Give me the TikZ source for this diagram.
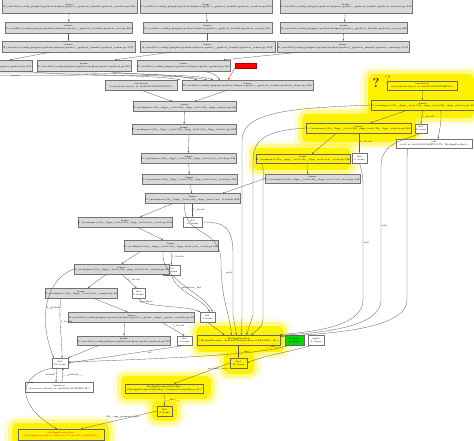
\documentclass[tikz,border=0pt]{standalone}
\usetikzlibrary{arrows.meta,calc}
\newcommand\bs{\textbackslash}
\newcommand\zpath{Z:\bs satellite\bs config\bs plugins\bs python\bs helpers\bs pydev}
\newcommand\dpath{D:\bs workspace\bs My\_App\bs \_tests\bs My\_App\_tests}
\tikzset{
 every node/.style={font=\fontsize{2.35}{2.9}\selectfont, inner sep=0.3pt, align=center},
 gb/.style={draw=black!55, fill=black!15, line width=0.3pt},
 wb/.style={draw=black!55, fill=white, line width=0.3pt},
 yb/.style={draw=black!60, fill=yellow, line width=0.3pt},
 e/.style={draw=black!65, line width=0.3pt, -{Stealth[length=2pt,width=1.6pt]}},
 lbl/.style={font=\fontsize{2.4}{3}\selectfont, inner sep=0.8pt},
 glowc/.style={fill=yellow, opacity=0.15, rounded corners=12pt},
 glowa/.style={fill=yellow, opacity=0.35, rounded corners=9pt},
 glowb/.style={fill=yellow, rounded corners=6pt},
}
\newcommand\glow[4]{%
 \fill[glowc] (#1-8,#2-7) rectangle (#3+8,#4+7);
 \fill[glowa] (#1-4,#2-4) rectangle (#3+4,#4+4);
 \fill[glowb] (#1,#2) rectangle (#3,#4);}
\begin{document}
\begin{tikzpicture}[x=1pt,y=-1pt]
\useasboundingbox (0,0) rectangle (474,441);
\clip (0,0) rectangle (474,441);
\fill[white] (0,0) rectangle (474,441);
% glows
\glow{368}{74}{474}{118}
\glow{302}{114}{416}{142}
\glow{253}{148}{351}{170}
\glow{196}{326}{284}{352}
\glow{224}{352}{254}{374}
\glow{121}{376}{211}{399}
\glow{152}{401}{177}{421}
\glow{12}{423}{109}{445}
% rows of frames
\node[gb, minimum width=135pt, minimum height=14pt] (r1a) at (69.5,6) {frame\\\zpath\bs \_pydevd\_bundle\bs pydevd\_resolver.py:306};
\node[gb, minimum width=132pt, minimum height=14pt] (r1b) at (206,6) {frame\\\zpath\bs \_pydevd\_bundle\bs pydevd\_resolver.py:306};
\node[gb, minimum width=130pt, minimum height=14pt] (r1c) at (346,6) {frame\\\zpath\bs \_pydevd\_bundle\bs pydevd\_resolver.py:306};
\node[gb, minimum width=127pt, minimum height=11pt] (r2a) at (68.5,27.5) {frame\\\zpath\bs \_pydevd\_bundle\bs pydevd\_vars.py:390};
\node[gb, minimum width=129pt, minimum height=11pt] (r2b) at (207.5,27.5) {frame\\\zpath\bs \_pydevd\_bundle\bs pydevd\_vars.py:390};
\node[gb, minimum width=126pt, minimum height=11pt] (r2c) at (344,27.5) {frame\\\zpath\bs \_pydevd\_bundle\bs pydevd\_vars.py:390};
\node[gb, minimum width=133pt, minimum height=11pt] (r3a) at (68.5,46.5) {frame\\\zpath\bs \_pydevd\_bundle\bs pydevd\_comm.py:1037};
\node[gb, minimum width=135pt, minimum height=11pt] (r3b) at (207.5,46.5) {frame\\\zpath\bs \_pydevd\_bundle\bs pydevd\_comm.py:1037};
\node[gb, minimum width=132pt, minimum height=11pt] (r3c) at (343,46.5) {frame\\\zpath\bs \_pydevd\_bundle\bs pydevd\_comm.py:1037};
\node[gb, minimum width=94pt, minimum height=11pt] (r4a) at (-15,65.5) {frame\\\zpath\bs pydevd.py:851};
\node[gb, minimum width=94pt, minimum height=11pt] (r4b) at (84,65.5) {frame\\\zpath\bs pydevd.py:851};
\node[gb, minimum width=93pt, minimum height=11pt] (r4c) at (183.5,65.5) {frame\\\zpath\bs pydevd.py:851};
\node[draw=red!70!black, fill=red, minimum width=21pt, minimum height=5pt, line width=0.3pt] (red) at (245.5,65.5) {};
\node[gb, minimum width=72pt, minimum height=10pt] (tb1) at (141,85) {traceback\\<traceback object at 0x00000000027EC9C8>};
\node[gb, minimum width=131pt, minimum height=10pt] (f825) at (247.5,85) {frame\\\zpath\bs \_pydevd\_bundle\bs pydevd\_frame.py:825};
\coordinate (o1) at (-5,73);
\coordinate (o2) at (-5,75.5);
% left chain
\node[gb, minimum width=99pt, minimum height=10pt] (f98) at (184.5,106.5) {frame\\\dpath\bs My\_App\_objects.py:98};
\node[gb, minimum width=102pt, minimum height=10pt] (f263) at (184,129) {frame\\\dpath\bs My\_App\_objects.py:263};
\node[gb, minimum width=87pt, minimum height=10pt] (f228) at (188.5,158) {frame\\\dpath\bs test\_stock.py:228};
\node[gb, minimum width=85pt, minimum height=10pt] (f198) at (189.5,179) {frame\\\dpath\bs test\_stock.py:198};
\node[gb, minimum width=85pt, minimum height=10pt] (f208) at (192.5,198.5) {frame\\\dpath\bs test\_stock.py:208};
\node[wb, minimum width=19pt, minimum height=10pt] (d12) at (192.5,222) {dict\\12 items};
\node[gb, minimum width=84pt, minimum height=10pt] (f204) at (125,222) {frame\\\dpath\bs test\_stock.py:204};
\node[gb, minimum width=84pt, minimum height=11pt] (f130) at (171,245.5) {frame\\\dpath\bs test\_stock.py:130};
\node[wb, minimum width=17pt, minimum height=10pt] (d16) at (171.5,270) {dict\\16 items};
\node[gb, minimum width=83pt, minimum height=10pt] (fex38) at (121.5,269) {frame\\\dpath\bs test\_sample.py:38};
\node[gb, minimum width=68pt, minimum height=10pt] (f44) at (81,293) {frame\\D:\bs workspace\bs My\_App\bs \_tests\bs test\_sample.py:44};
\node[wb, minimum width=13pt, minimum height=10pt] (d5) at (138.5,293) {dict\\5 items};
\node[gb, minimum width=123pt, minimum height=10pt] (fprod) at (131.5,317) {frame\\\zpath\bs \_pydev\_imps\bs \_pydev\_execfile.py:18};
\node[wb, minimum width=15pt, minimum height=10pt] (l2) at (207.5,317) {list\\2 items};
\node[gb, minimum width=92pt, minimum height=9.5pt] (f974) at (124,340.5) {frame\\\zpath\bs pydevd.py:974};
\node[wb, minimum width=15pt, minimum height=9.5pt] (d4) at (184.5,340.5) {dict\\4 items};
\node[wb, minimum width=16pt, minimum height=10pt] (d19) at (60,363) {dict\\19 items};
\node[wb, minimum width=68pt, minimum height=10pt] (func) at (59,387) {function\\<function default at 0x00000000025B1048>};
\node[yb, minimum width=86pt, minimum height=11pt, text=red] (pk) at (61,434.5) {MyAppProductKey\\<MyAppProductKey: Feature:(Code=SG\_39374000)>};
\node[yb, minimum width=78pt, minimum height=9.5pt] (mk) at (164,388.5) {MyAppProductMultiKey\\<MyAppProductMultiKey: PrimaryProductKey=15>};
\node[yb, minimum width=15pt, minimum height=10pt] (d4y) at (164.5,411) {dict\\4 items};
\node[yb, minimum width=83pt, minimum height=10pt] (prod) at (238.5,340) {MyAppProduct\\<MyAppProduct: Feature(ProductKey)=GALAXY\_S6>};
\node[draw=black!60, fill=green!85!black, line width=0.3pt, minimum width=19pt, minimum height=10pt] (green) at (294.5,340) {module\\produce};
\node[wb, minimum width=16pt, minimum height=10pt] (tuple) at (316,340) {tuple\\3 items};
\node[yb, minimum width=17pt, minimum height=10pt] (d12y) at (238.5,363) {dict\\12 items};
% right chain
\node[font=\bfseries\fontsize{13}{13}\selectfont, text=red!55!black, inner sep=0pt] (q1) at (376,83) {?};
\node[font=\bfseries\fontsize{13}{13}\selectfont, text=orange!85!yellow, inner sep=0pt] (q2) at (387.5,80) {?};
\node[yb, minimum width=70pt, minimum height=9pt] (tby) at (422,85.5) {traceback\\<traceback object at 0x000000000274E708>};
\node[yb, minimum width=101pt, minimum height=10pt] (f98y) at (422.5,105) {frame\\\dpath\bs My\_App\_objects.py:98};
\node[wb, minimum width=12pt, minimum height=9pt] (d8) at (421,128.5) {dict\\8 items};
\node[yb, minimum width=101pt, minimum height=10pt] (f263y) at (358.5,128) {frame\\\dpath\bs My\_App\_objects.py:263};
\node[wb, minimum width=15pt, minimum height=10pt] (d6) at (359.5,158) {dict\\6 items};
\node[wb, minimum width=76pt, minimum height=9pt] (cell) at (434,143.5) {cell\\<cell at 0x0000000002EC5C78: MyAppProduct>};
\node[yb, minimum width=86pt, minimum height=9pt] (f228y) at (303,158.5) {frame\\\dpath\bs test\_stock.py:228};
\node[gb, minimum width=83pt, minimum height=9pt] (f198r) at (312.5,178.5) {frame\\\dpath\bs test\_stock.py:198};
% edges top
\draw[e] (r1a) -- (r2a); \draw[e] (r2a) -- (r3a);
\draw[e] (r1b) -- (r2b); \draw[e] (r2b) -- (r3b);
\draw[e] (r1c) -- (r2c); \draw[e] (r2c) -- (r3c);
\draw[e] ($(r3a.south)+(-18,0)$) -- ($(r4a.north)+(25,0)$);
\draw[e] ($(r3b.south)+(-37,0)$) -- ($(r4b.north)+(31,0)$);
\draw[e] ($(r3c.south)+(-43,0)$) -- ($(r4c.north)+(40,0)$);
\draw[e] ($(r4a.south)+(40,0)$) .. controls (60,76) and (150,74) .. ($(f825.north west)+(-2,0)$);
\draw[e] (o1) .. controls (80,73) and (170,72) .. ($(f825.north west)+(15,0)$);
\draw[e] (o2) .. controls (80,75) and (180,74) .. ($(f825.north west)+(25,0)$);
\draw[e] ($(r4b.south)+(20,0)$) .. controls (140,76) and (200,74) .. ($(f825.north west)+(31,0)$);
\draw[e] ($(r4c.south)+(20,0)$) .. controls (215,74) .. ($(f825.north west)+(38,0)$);
\draw[e, draw=red] (red.south west) -- ($(f825.north west)+(46,0)$);
\draw[e] (tb1.south) -- ($(f98.north)+(-12,0)$);
\draw[e] ($(f825.south)+(-20,0)$) -- ($(f98.north)+(10,0)$);
\draw[e] (f98) -- (f263);
\draw[e] ($(f263.south)+(5,0)$) -- (f228.north);
\draw[e] (f228) -- (f198);
\draw[e] (f198) -- (f208);
\draw[e] (f198r.west) -- ($(f208.north)+(30,0)$);
\draw[e] (f208.south) -- node[lbl, right, pos=0.45] {f\_locals} (d12.north);
\draw[e] ($(f208.south)+(-20,0)$) -- ($(f204.north)+(15,0)$);
\draw[e] ($(f204.south)+(12,0)$) -- ($(f130.north)+(-8,0)$);
\draw[e] (f130.south) -- node[lbl, right, pos=0.4] {f\_locals} (d16.north);
\draw[e] ($(f130.south)+(-30,0)$) -- (fex38.north);
\draw[e] ($(fex38.south)+(-15,0)$) -- ($(f44.north)+(7,0)$);
\draw[e] ($(fex38.south)+(0,0)$) -- node[lbl, right, pos=0.4] {f\_locals} ($(d5.north)+(-2,0)$);
\draw[e] ($(f44.south)+(12,0)$) -- ($(fprod.north)+(-4,0)$);
\draw[e] ($(fprod.south)+(-7,0)$) -- (f974.north);
\draw[e] ($(fprod.south)+(30,0)$) -- node[lbl, above right, pos=0.45] {f\_locals} (d4.north);
\draw[e] (d5.south) .. controls (140,308) and (185,305) .. node[lbl, above, pos=0.25] {producer} (l2.north west);
\draw[e] (d16.south) .. controls (176,292) and (205,300) .. node[lbl, right, pos=0.3] {producer\_list} ($(l2.north)+(2,0)$);
\draw[e] ($(f130.south)+(-8,0)$) .. controls (160,280) and (203,292) .. ($(l2.north)+(5,0)$);
\draw[e] ($(f44.south)+(-20,0)$) .. controls (58,320) and (62,335) .. node[lbl, right, pos=0.4] {f\_locals} ($(d19.north)+(2,0)$);
\draw[e] (fex38.west) .. controls (45,280) and (38,320) .. node[lbl, right, pos=0.55] {f\_globals} ($(d19.north west)+(2,0)$);
\draw[e] ($(f974.south)+(-25,0)$) -- (d19.north east);
\draw[e] (d4.south) -- node[lbl, below, pos=0.3] {lst} (d19.east);
\draw[e] ($(d19.south)+(-3,0)$) -- node[lbl, left] {default} ($(func.north)+(-3,0)$);
\draw[e] ($(func.north)+(3,0)$) -- node[lbl, right] {\_\_globals\_\_} ($(d19.south)+(3,0)$);
\draw[e] (d19.south west) .. controls (18,375) and (15,405) .. node[lbl, right, pos=0.35] {obj} ($(pk.north)+(-4,0)$);
\draw[e] (d4y.west) -- node[lbl, above, pos=0.45] {My\_app\_primary\_key} ($(pk.north)+(20,0)$);
\draw[e] (mk.south) -- node[lbl, right] {\_\_dict\_\_} (d4y.north);
\draw[e] (d12y.west) -- node[lbl, above right, pos=0.4] {product\_keys} ($(mk.north)+(10,0)$);
\draw[e] (prod.south) -- node[lbl, right] {\_\_dict\_\_} (d12y.north);
\draw[e] ($(green.south)+(-5,0)$) .. controls (270,352) and (220,357) .. node[lbl, above, pos=0.2] {\_\_dict\_\_} ($(d19.east)+(0,-1)$);
\draw[e] ($(tuple.south)+(-4,0)$) .. controls (290,352) and (265,355) .. (d12y.east);
% into prod from above
\draw[e] (l2.south) -- ($(prod.north)+(-14,0)$);
\draw[e] ($(f208.south)+(-8,0)$) .. controls (183,238) and (221,226) .. (221,262) .. controls (221,300) and (230,315) .. ($(prod.north)+(-7,0)$);
\draw[e] (d12.east) .. controls (226,222) and (233,228) .. (233,255) -- node[lbl, left, pos=0.3] {pod} (233,315) -- ($(prod.north)+(-2,0)$);
\draw[e] (f98y.west) .. controls (300,108) and (242,110) .. (242,140) -- (242,315) -- ($(prod.north)+(3,0)$);
\draw[e] (f263y.west) .. controls (275,130) and (253,135) .. (253,160) -- (253,315) -- ($(prod.north)+(8,0)$);
\draw[e] ($(f228y.south west)+(6,0)$) .. controls (264,168) and (263,172) .. (263,190) -- (263,315) .. controls (263,325) .. ($(prod.north)+(13,0)$);
% right side edges
\draw[e] (tby) -- (f98y);
\draw[e] (f98y.south) -- node[lbl, right, pos=0.5] {f\_locals} (d8.north);
\draw[e] ($(f98y.south)+(-15,0)$) -- ($(f263y.north)+(12,0)$);
\draw[e] ($(f263y.south)+(1,0)$) -- node[lbl, right, pos=0.45] {f\_locals} (d6.north);
\draw[e] ($(f263y.south)+(-22,0)$) -- ($(f228y.north)+(9,0)$);
\draw[e] ($(f228y.south)+(4,0)$) -- ($(f198r.north)+(-5,0)$);
\draw[e] ($(f98y.south)+(18,0)$) .. controls (442,118) and (440,128) .. ($(cell.north)+(4,0)$);
\draw[e] (d6.south) .. controls (363,175) .. (363,195) -- node[lbl, right, pos=0.45] {self} (363,300) .. controls (363,330) and (300,332) .. (prod.north east);
\draw[e] (d8.south) .. controls (405,140) and (382,142) .. (381,165) -- node[lbl, right, pos=0.45] {self} (381,300) .. controls (381,332) and (300,333) .. ($(prod.north east)+(0,1)$);
\draw[e] ($(cell.south west)+(12,0)$) .. controls (407,155) .. (407,170) -- (407,300) .. controls (407,334) and (300,334) .. ($(prod.north east)+(0,2)$);
\end{tikzpicture}
\end{document}
